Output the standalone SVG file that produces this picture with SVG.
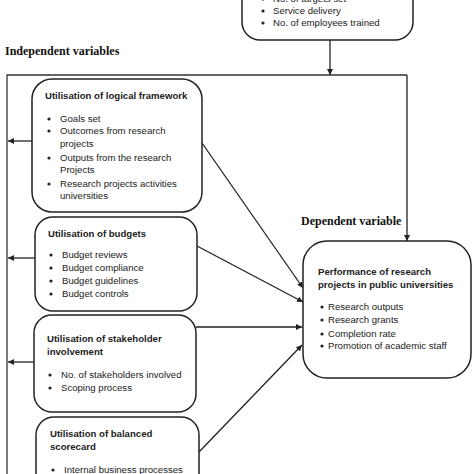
<svg xmlns="http://www.w3.org/2000/svg" width="474" height="474" viewBox="0 0 474 474">
<defs>
<marker id="ah" viewBox="0 0 10 10" refX="10" refY="5" markerWidth="6" markerHeight="6" markerUnits="userSpaceOnUse" orient="auto"><path d="M0,0 L10,5 L0,10 z" fill="#222"/></marker>
<style>
.box{fill:#fff;stroke:#222;stroke-width:1.5}
.ln{fill:none;stroke:#333;stroke-width:1.3}
.ar{fill:none;stroke:#222;stroke-width:1.3;marker-end:url(#ah)}
.t{font-family:"Liberation Sans",Arial,sans-serif;font-size:9.6px;fill:#222}
.b{font-weight:bold}
.h{font-family:"Liberation Serif","Times New Roman",serif;font-size:12px;font-weight:bold;fill:#111}
</style>
</defs>
<rect width="474" height="474" fill="#fff"/>
<text class="h" x="5" y="55">Independent variables</text>
<text class="h" x="301" y="225">Dependent variable</text>
<g id="connectors">
<line class="ar" x1="330" y1="40" x2="330" y2="75"/>
<polyline class="ln" points="7,474 7,75 407,75"/>
<line class="ar" x1="407" y1="75" x2="407" y2="241"/>
<line class="ar" x1="32" y1="141" x2="8" y2="141"/>
<line class="ar" x1="35" y1="258" x2="8" y2="258"/>
<line class="ar" x1="34" y1="362" x2="8" y2="362"/>
<line class="ar" x1="202" y1="143" x2="303" y2="288"/>
<line class="ar" x1="197" y1="246" x2="303" y2="302"/>
<line class="ar" x1="196" y1="327" x2="302" y2="327"/>
<line class="ar" x1="199" y1="452" x2="302" y2="345"/>
</g>
<g id="node-top">
<rect class="box" x="242" y="-60" width="171" height="100" rx="18"/>
<g class="t">
<circle cx="263" cy="-1" r="1.6"/><text x="273" y="2">No. of targets set</text>
<circle cx="263" cy="11" r="1.6"/><text x="273" y="14">Service delivery</text>
<circle cx="263" cy="23" r="1.6"/><text x="273" y="26">No. of employees trained</text>
</g>
</g>
<g id="node-logframe">
<rect class="box" x="32" y="79" width="170" height="133" rx="20"/>
<g class="t">
<text class="b" x="45" y="99">Utilisation of logical framework</text>
<circle cx="49" cy="119" r="1.6"/><text x="60" y="122">Goals set</text>
<circle cx="49" cy="131" r="1.6"/><text x="60" y="134">Outcomes from research</text>
<text x="60" y="147">projects</text>
<circle cx="49" cy="158" r="1.6"/><text x="60" y="161">Outputs from the research</text>
<text x="60" y="173">Projects</text>
<circle cx="49" cy="184" r="1.6"/><text x="60" y="187">Research projects activities</text>
<text x="60" y="199">universities</text>
</g>
</g>
<g id="node-budgets">
<rect class="box" x="35" y="217" width="162" height="94" rx="18"/>
<g class="t">
<text class="b" x="48" y="237">Utilisation of budgets</text>
<circle cx="51" cy="255" r="1.6"/><text x="62" y="258">Budget reviews</text>
<circle cx="51" cy="268" r="1.6"/><text x="62" y="271">Budget compliance</text>
<circle cx="51" cy="281" r="1.6"/><text x="62" y="284">Budget guidelines</text>
<circle cx="51" cy="294" r="1.6"/><text x="62" y="297">Budget controls</text>
</g>
</g>
<g id="node-stakeholder">
<rect class="box" x="34" y="315" width="162" height="97" rx="18"/>
<g class="t">
<text class="b" x="47" y="342">Utilisation of stakeholder</text>
<text class="b" x="47" y="355">involvement</text>
<circle cx="50" cy="375" r="1.6"/><text x="61" y="378">No. of stakeholders involved</text>
<circle cx="50" cy="388" r="1.6"/><text x="61" y="391">Scoping process</text>
</g>
</g>
<g id="node-scorecard">
<rect class="box" x="36" y="417" width="163" height="100" rx="18"/>
<g class="t">
<text class="b" x="50" y="437">Utilisation of balanced</text>
<text class="b" x="50" y="450">scorecard</text>
<circle cx="53" cy="470" r="1.6"/><text x="64" y="473">Internal business processes</text>
</g>
</g>
<g id="node-dependent">
<rect class="box" x="303" y="241" width="168" height="137" rx="24"/>
<g class="t">
<text class="b" x="318" y="275">Performance of research</text>
<text class="b" x="318" y="288">projects in public universities</text>
<circle cx="322" cy="307" r="1.6"/><text x="328" y="310">Research outputs</text>
<circle cx="322" cy="320" r="1.6"/><text x="328" y="323">Research grants</text>
<circle cx="322" cy="334" r="1.6"/><text x="328" y="337">Completion rate</text>
<circle cx="322" cy="346" r="1.6"/><text x="328" y="349">Promotion of academic staff</text>
</g>
</g>
</svg>
